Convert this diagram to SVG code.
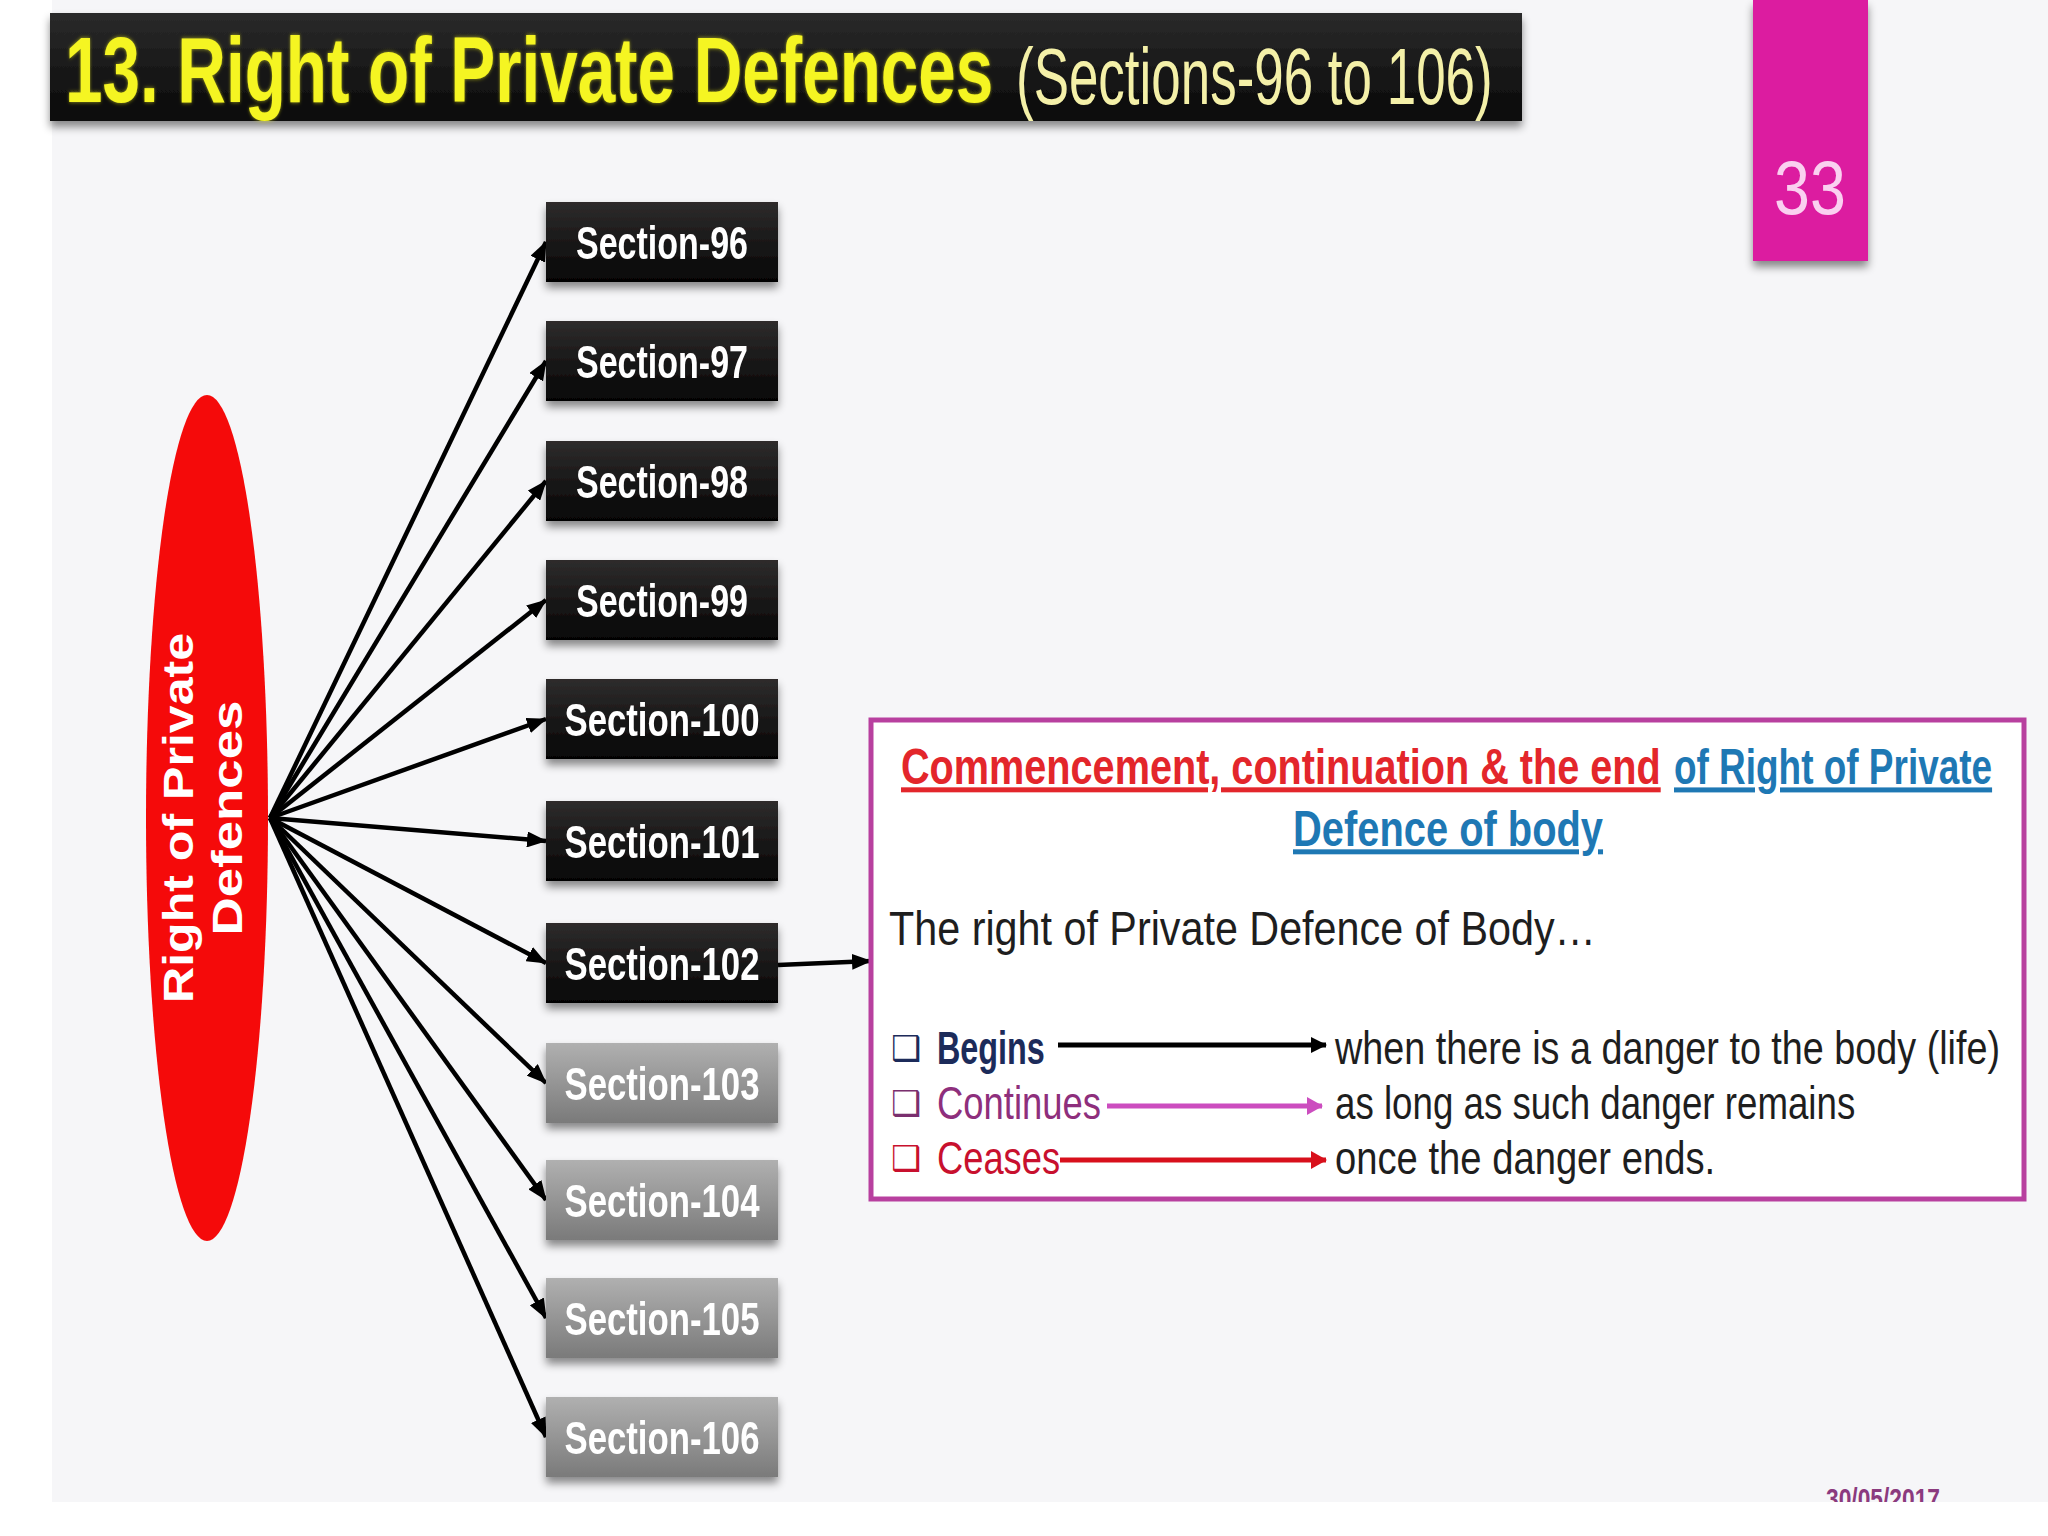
<svg xmlns="http://www.w3.org/2000/svg" width="2048" height="1536" viewBox="0 0 2048 1536">
<defs>
<style>
.sec{font-family:"Liberation Sans",Arial,sans-serif;font-weight:bold;font-size:46px;fill:#ffffff;text-anchor:middle}
.con{stroke:#000;stroke-width:4.5;fill:none;marker-end:url(#ah)}
.body{font-family:"Liberation Sans",Arial,sans-serif;font-size:48px;fill:#1e1e1e}
.row{font-family:"Liberation Sans",Arial,sans-serif;font-size:46px;fill:#1e1e1e}
.lbl{font-family:"Liberation Sans",Arial,sans-serif;font-size:46px}
.hd{font-family:"Liberation Sans",Arial,sans-serif;font-weight:bold;font-size:50px;text-decoration:underline}
.bul{font-family:"DejaVu Sans",sans-serif;font-size:34px;font-weight:bold}
</style>
<linearGradient id="gBlack" x1="0" y1="0" x2="0" y2="1">
<stop offset="0" stop-color="#2e2c2c"/><stop offset="1" stop-color="#050505"/>
</linearGradient>
<linearGradient id="gGray" x1="0" y1="0" x2="0" y2="1">
<stop offset="0" stop-color="#b0b0b0"/><stop offset="1" stop-color="#7a7a7a"/>
</linearGradient>
<linearGradient id="gTitle" x1="0" y1="0" x2="0" y2="1">
<stop offset="0" stop-color="#2b2b2b"/><stop offset="1" stop-color="#080808"/>
</linearGradient>
<filter id="sh" x="-10%" y="-20%" width="120%" height="150%">
<feDropShadow dx="0" dy="6" stdDeviation="4" flood-color="#000" flood-opacity="0.45"/>
</filter>
<filter id="glow" x="-5%" y="-20%" width="110%" height="140%">
<feDropShadow dx="0" dy="0" stdDeviation="2" flood-color="#f5f520" flood-opacity="0.6"/>
</filter>
<marker id="ah" markerUnits="userSpaceOnUse" markerWidth="20" markerHeight="16" refX="19" refY="8" orient="auto">
<path d="M0,0 L20,8 L0,16 z" fill="#000"/>
</marker>
<marker id="ahK" markerUnits="userSpaceOnUse" markerWidth="16" markerHeight="16" refX="15" refY="8" orient="auto">
<path d="M0,0 L16,8 L0,16 z" fill="#000"/>
</marker>
<marker id="ahM" markerUnits="userSpaceOnUse" markerWidth="16" markerHeight="18" refX="15" refY="9" orient="auto">
<path d="M0,0 L16,9 L0,18 z" fill="#cc4dbf"/>
</marker>
<marker id="ahR" markerUnits="userSpaceOnUse" markerWidth="16" markerHeight="18" refX="15" refY="9" orient="auto">
<path d="M0,0 L16,9 L0,18 z" fill="#d8101c"/>
</marker>
</defs>

<!-- page background -->
<rect x="0" y="0" width="2048" height="1536" fill="#ffffff"/>
<rect x="52" y="0" width="1996" height="1502" fill="#f6f6f8"/>

<!-- date (partly hidden by page edge) -->
<text transform="translate(1883,1509) scale(0.76,1)" x="0" y="0" font-family="Liberation Sans,Arial,sans-serif" font-size="30" font-weight="bold" fill="#8b3a7e" text-anchor="middle" textLength="150" lengthAdjust="spacingAndGlyphs">30/05/2017</text>
<rect x="0" y="1502" width="2048" height="34" fill="#ffffff"/>

<!-- title bar -->
<g id="title">
<rect x="50" y="13" width="1472" height="108" fill="url(#gTitle)" filter="url(#sh)"/>
<text transform="translate(65,102) scale(0.732,1)" x="0" y="0" font-family="Liberation Sans,Arial,sans-serif" font-weight="bold" font-size="92" fill="#f5f520" textLength="1268" lengthAdjust="spacingAndGlyphs" filter="url(#glow)">13. Right of Private Defences</text>
<text transform="translate(1016,104) scale(0.662,1)" x="0" y="0" font-family="Liberation Sans,Arial,sans-serif" font-size="80" fill="#f4f0a8" textLength="720" lengthAdjust="spacingAndGlyphs">(Sections-96 to 106)</text>
</g>

<!-- page number -->
<g id="pagenum">
<rect x="1753" y="0" width="115" height="261" fill="#dc1fa0" filter="url(#sh)"/>
<text transform="translate(1810,214) scale(0.85,1)" x="0" y="0" font-family="Liberation Sans,Arial,sans-serif" font-size="76" fill="#fad0f0" text-anchor="middle">33</text>
</g>

<!-- connectors -->
<g id="connectors">
<line class="con" x1="270" y1="818" x2="546" y2="242"/>
<line class="con" x1="270" y1="818" x2="546" y2="361"/>
<line class="con" x1="270" y1="818" x2="546" y2="481"/>
<line class="con" x1="270" y1="818" x2="546" y2="600"/>
<line class="con" x1="270" y1="818" x2="546" y2="719"/>
<line class="con" x1="270" y1="818" x2="546" y2="841"/>
<line class="con" x1="270" y1="818" x2="546" y2="963"/>
<line class="con" x1="270" y1="818" x2="546" y2="1083"/>
<line class="con" x1="270" y1="818" x2="546" y2="1200"/>
<line class="con" x1="270" y1="818" x2="546" y2="1318"/>
<line class="con" x1="270" y1="818" x2="546" y2="1437"/>
<line class="con" x1="778" y1="965" x2="871" y2="961"/>
</g>

<!-- root ellipse -->
<g id="root">
<ellipse cx="207" cy="818" rx="61" ry="423" fill="#f50a0a"/>
<g transform="translate(207,818) rotate(-90)">
<text transform="translate(0,-14) scale(1.19,1)" x="0" y="0" font-family="Liberation Sans,Arial,sans-serif" font-weight="bold" font-size="42" fill="#ffffff" text-anchor="middle" textLength="311" lengthAdjust="spacingAndGlyphs">Right of Private</text>
<text transform="translate(0,35) scale(1.25,1)" x="0" y="0" font-family="Liberation Sans,Arial,sans-serif" font-weight="bold" font-size="42" fill="#ffffff" text-anchor="middle" textLength="188" lengthAdjust="spacingAndGlyphs">Defences</text>
</g>
</g>

<!-- section nodes -->
<g id="s96" filter="url(#sh)"><rect x="546" y="202" width="232" height="80" fill="url(#gBlack)"/><text class="sec" transform="translate(662,259) scale(0.738,1)" textLength="233" lengthAdjust="spacingAndGlyphs">Section-96</text></g>
<g id="s97" filter="url(#sh)"><rect x="546" y="321" width="232" height="80" fill="url(#gBlack)"/><text class="sec" transform="translate(662,378) scale(0.738,1)" textLength="233" lengthAdjust="spacingAndGlyphs">Section-97</text></g>
<g id="s98" filter="url(#sh)"><rect x="546" y="441" width="232" height="80" fill="url(#gBlack)"/><text class="sec" transform="translate(662,498) scale(0.738,1)" textLength="233" lengthAdjust="spacingAndGlyphs">Section-98</text></g>
<g id="s99" filter="url(#sh)"><rect x="546" y="560" width="232" height="80" fill="url(#gBlack)"/><text class="sec" transform="translate(662,617) scale(0.738,1)" textLength="233" lengthAdjust="spacingAndGlyphs">Section-99</text></g>
<g id="s100" filter="url(#sh)"><rect x="546" y="679" width="232" height="80" fill="url(#gBlack)"/><text class="sec" transform="translate(662,736) scale(0.756,1)" textLength="258" lengthAdjust="spacingAndGlyphs">Section-100</text></g>
<g id="s101" filter="url(#sh)"><rect x="546" y="801" width="232" height="80" fill="url(#gBlack)"/><text class="sec" transform="translate(662,858) scale(0.756,1)" textLength="258" lengthAdjust="spacingAndGlyphs">Section-101</text></g>
<g id="s102" filter="url(#sh)"><rect x="546" y="923" width="232" height="80" fill="url(#gBlack)"/><text class="sec" transform="translate(662,980) scale(0.756,1)" textLength="258" lengthAdjust="spacingAndGlyphs">Section-102</text></g>
<g id="s103" filter="url(#sh)"><rect x="546" y="1043" width="232" height="80" fill="url(#gGray)"/><text class="sec" transform="translate(662,1100) scale(0.756,1)" textLength="258" lengthAdjust="spacingAndGlyphs">Section-103</text></g>
<g id="s104" filter="url(#sh)"><rect x="546" y="1160" width="232" height="80" fill="url(#gGray)"/><text class="sec" transform="translate(662,1217) scale(0.756,1)" textLength="258" lengthAdjust="spacingAndGlyphs">Section-104</text></g>
<g id="s105" filter="url(#sh)"><rect x="546" y="1278" width="232" height="80" fill="url(#gGray)"/><text class="sec" transform="translate(662,1335) scale(0.756,1)" textLength="258" lengthAdjust="spacingAndGlyphs">Section-105</text></g>
<g id="s106" filter="url(#sh)"><rect x="546" y="1397" width="232" height="80" fill="url(#gGray)"/><text class="sec" transform="translate(662,1454) scale(0.756,1)" textLength="258" lengthAdjust="spacingAndGlyphs">Section-106</text></g>

<!-- info box -->
<g id="info">
<rect x="871" y="720" width="1153" height="479" fill="#ffffff" stroke="#b8409f" stroke-width="5"/>
<text class="hd" transform="translate(901,784) scale(0.793,1)" fill="#e3262b" textLength="958" lengthAdjust="spacingAndGlyphs">Commencement, continuation &amp; the end</text>
<text class="hd" transform="translate(1674,784) scale(0.738,1)" fill="#1e78b4" textLength="431" lengthAdjust="spacingAndGlyphs">of Right of Private</text>
<text class="hd" transform="translate(1293,846) scale(0.797,1)" fill="#1e78b4" textLength="389" lengthAdjust="spacingAndGlyphs">Defence of body</text>
<text class="body" transform="translate(889,945) scale(0.86,1)" textLength="822" lengthAdjust="spacingAndGlyphs">The right of Private Defence of Body…</text>

<text class="bul" x="891" y="1060" fill="#1c2b5a">❑</text>
<text class="lbl" transform="translate(937,1064) scale(0.705,1)" font-weight="bold" fill="#1c2b5a" textLength="153" lengthAdjust="spacingAndGlyphs">Begins</text>
<line x1="1058" y1="1045" x2="1326" y2="1045" stroke="#000" stroke-width="5" marker-end="url(#ahK)"/>
<text class="row" transform="translate(1335,1064) scale(0.82,1)" textLength="811" lengthAdjust="spacingAndGlyphs">when there is a danger to the body (life)</text>

<text class="bul" x="891" y="1115" fill="#7a2f6e">❑</text>
<text class="lbl" transform="translate(937,1119) scale(0.792,1)" fill="#8e2f7c" textLength="207" lengthAdjust="spacingAndGlyphs">Continues</text>
<line x1="1107" y1="1106" x2="1322" y2="1106" stroke="#cc4dbf" stroke-width="5" marker-end="url(#ahM)"/>
<text class="row" transform="translate(1335,1119) scale(0.798,1)" textLength="652" lengthAdjust="spacingAndGlyphs">as long as such danger remains</text>

<text class="bul" x="891" y="1170" fill="#c8102e">❑</text>
<text class="lbl" transform="translate(937,1174) scale(0.789,1)" fill="#c8102e" textLength="156" lengthAdjust="spacingAndGlyphs">Ceases</text>
<line x1="1060" y1="1160" x2="1326" y2="1160" stroke="#d8101c" stroke-width="5" marker-end="url(#ahR)"/>
<text class="row" transform="translate(1335,1174) scale(0.83,1)" textLength="458" lengthAdjust="spacingAndGlyphs">once the danger ends.</text>
</g>
</svg>
